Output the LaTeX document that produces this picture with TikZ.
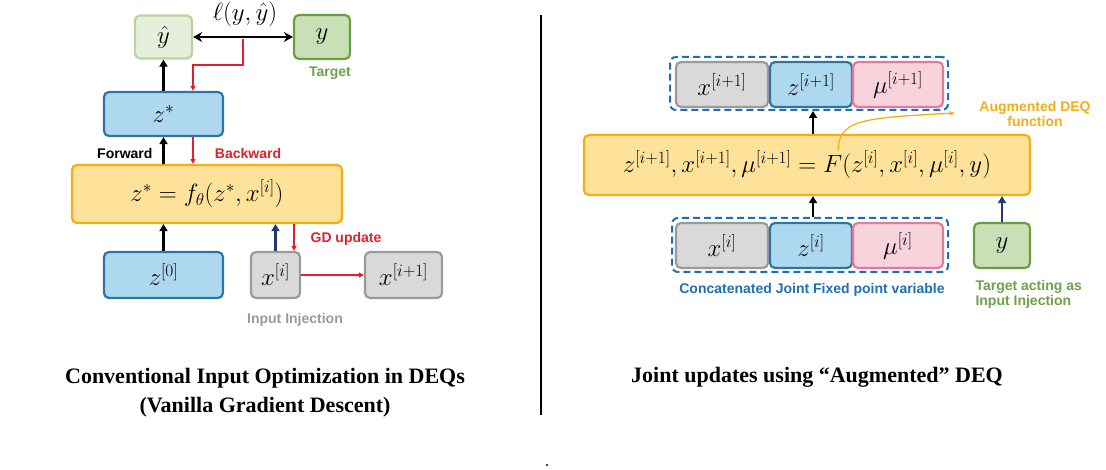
\documentclass[tikz,border=0pt]{standalone}
\usepackage{fontspec}
\setmainfont{Liberation Serif}
\newfontfamily\lbl{Liberation Sans}
\usetikzlibrary{arrows.meta}
\definecolor{gfillL}{HTML}{E6EFDC}\definecolor{gdrawL}{HTML}{B5D6A0}
\definecolor{gfill}{HTML}{C9E0B6}\definecolor{gdraw}{HTML}{6A9E3F}
\definecolor{bfill}{HTML}{AED8F0}\definecolor{bdraw}{HTML}{2E75A6}
\definecolor{yfill}{HTML}{FFE29A}\definecolor{ydraw}{HTML}{F2AE14}
\definecolor{kfill}{HTML}{D9D9D9}\definecolor{kdraw}{HTML}{9A9A9A}
\definecolor{pfill}{HTML}{F9D3DC}\definecolor{pdraw}{HTML}{E07AA0}
\definecolor{rline}{HTML}{E0202A}\definecolor{navy}{HTML}{1F3A73}
\definecolor{dashb}{HTML}{1F6FB4}\definecolor{tgreen}{HTML}{70A048}
\begin{document}
\begin{tikzpicture}[x=1pt,y=-1pt,
 bx/.style={draw,rounded corners=5pt,line width=2.2pt,inner sep=0pt},
 m/.style={font=\fontsize{24}{26}\selectfont},
 lab/.style={font=\lbl\bfseries\fontsize{14}{15}\selectfont},
 blk/.style={line width=2.6pt,-{Triangle[length=7pt,width=8pt]}},
 nav/.style={line width=2.6pt,navy,-{Triangle[length=7pt,width=8pt]}},
 red/.style={line width=1.3pt,rline,-{Triangle[length=5pt,width=5pt]}},
 dsh/.style={draw=dashb,dashed,dash pattern=on 7pt off 4pt,line width=2pt,rounded corners=6pt},
 title/.style={font=\bfseries\fontsize{22}{29}\selectfont,align=center}]
\useasboundingbox (0,0) rectangle (1106,470);
% left
\node[bx,fill=gfillL,draw=gdrawL,minimum width=57,minimum height=43,m] (yh) at (163.5,37) {$\hat y$};
\node[bx,fill=gfill,draw=gdraw,minimum width=56,minimum height=44,m] (y) at (322,37) {$y$};
\node[m,anchor=south,inner sep=0pt] (loss) at (245,27) {$\ell(y,\hat y)$};
\draw[line width=2.4pt,{Stealth[length=9pt,width=10pt]}-{Stealth[length=9pt,width=10pt]}] (yh.east) -- (y.west);
\node[lab,text=tgreen] (tgt) at (330,73) {Target};
\node[bx,fill=bfill,draw=bdraw,minimum width=119,minimum height=44,m] (zs) at (163.5,114) {$z^*$};
\node[bx,fill=yfill,draw=ydraw,minimum width=270,minimum height=58,m] (f) at (207,194) {$z^*=f_\theta(z^*,x^{[i]})$};
\node[bx,fill=bfill,draw=bdraw,minimum width=119,minimum height=46,m] (z0) at (163.5,275) {$z^{[0]}$};
\node[bx,fill=kfill,draw=kdraw,minimum width=49,minimum height=46,m] (xi) at (275.5,275) {$x^{[i]}$};
\node[bx,fill=kfill,draw=kdraw,minimum width=77,minimum height=46,m] (xn) at (403.5,275) {$x^{[i+1]}$};
\coordinate (r1) at (243,39); \coordinate (r2) at (243,65); \coordinate (r3) at (193,65);
\draw[red] (r1) -- (r2) -- (r3) -- (zs.north -| r3);
\draw[blk] (yh.south |- zs.north) -- (yh.south);
\draw[blk] (f.north -| zs) -- (zs.south);
\draw[red] (zs.south -| r3) -- (f.north -| r3);
\node[lab,anchor=east] (fw) at (156,153) {Forward};
\node[lab,text=rline] (bw) at (248,153) {Backward};
\draw[blk] (z0.north) -- (f.south -| z0);
\draw[nav] (xi.north) -- (f.south -| xi);
\coordinate (g) at (294,0);
\draw[red] (f.south -| g) -- (xi.north -| g);
\node[lab,text=rline] (gd) at (346,239) {GD update};
\draw[red] (xi.east) -- (xn.west);
\node[lab,text=kdraw] (ii) at (295,320) {Input Injection};
\node[title] (t1) at (265,393) {Conventional Input Optimization in DEQs\\(Vanilla Gradient Descent)};
\draw[line width=1.2pt] (541,15) -- (541,415);
\node[circle,fill,inner sep=0.8pt] (dot) at (547,465) {};
% right
\node[dsh,minimum width=278,minimum height=53] (top) at (809,83.5) {};
\node[bx,fill=kfill,draw=kdraw,minimum width=92,minimum height=45,m] (a1) at (722,84.5) {$x^{[i+1]}$};
\node[bx,fill=bfill,draw=bdraw,minimum width=82,minimum height=45,m] (a2) at (811,84.5) {$z^{[i+1]}$};
\node[bx,fill=pfill,draw=pdraw,minimum width=90,minimum height=45,m] (a3) at (898,84.5) {$\mu^{[i+1]}$};
\node[bx,fill=yfill,draw=ydraw,minimum width=446,minimum height=60,m] (F) at (807,165) {$z^{[i+1]},x^{[i+1]},\mu^{[i+1]}=F(z^{[i]},x^{[i]},\mu^{[i]},y)$};
\node[dsh,minimum width=276,minimum height=54] (bot) at (810,245) {};
\node[bx,fill=kfill,draw=kdraw,minimum width=92,minimum height=45,m] (b1) at (722,245.5) {$x^{[i]}$};
\node[bx,fill=bfill,draw=bdraw,minimum width=82,minimum height=45,m] (b2) at (811,245.5) {$z^{[i]}$};
\node[bx,fill=pfill,draw=pdraw,minimum width=90,minimum height=45,m] (b3) at (898,245.5) {$\mu^{[i]}$};
\node[bx,fill=gfill,draw=gdraw,minimum width=56,minimum height=45,m] (yy) at (1002,245.5) {$y$};
\coordinate (c) at (813,0);
\draw[blk] (F.north -| c) -- (top.south -| c);
\draw[blk] (bot.north -| c) -- (F.south -| c);
\draw[nav] (yy.north) -- (F.south -| yy);
\coordinate (cs) at (838,150); \coordinate (ce) at (955,113);
\draw[ydraw,line width=1.3pt,-{Stealth[length=6pt]}] (cs) .. controls (840,120) and (860,118) .. (ce);
\node[lab,text=ydraw,align=center] (aug) at (1035,114) {Augmented DEQ\\function};
\node[lab,text=dashb] (cc) at (812,290) {Concatenated Joint Fixed point variable};
\node[lab,text=tgreen,align=left,anchor=north west] (ta) at (972,277) {Target acting as\\Input Injection};
\node[title] (t2) at (817,377) {Joint updates using “Augmented” DEQ};
\end{tikzpicture}
\end{document}
